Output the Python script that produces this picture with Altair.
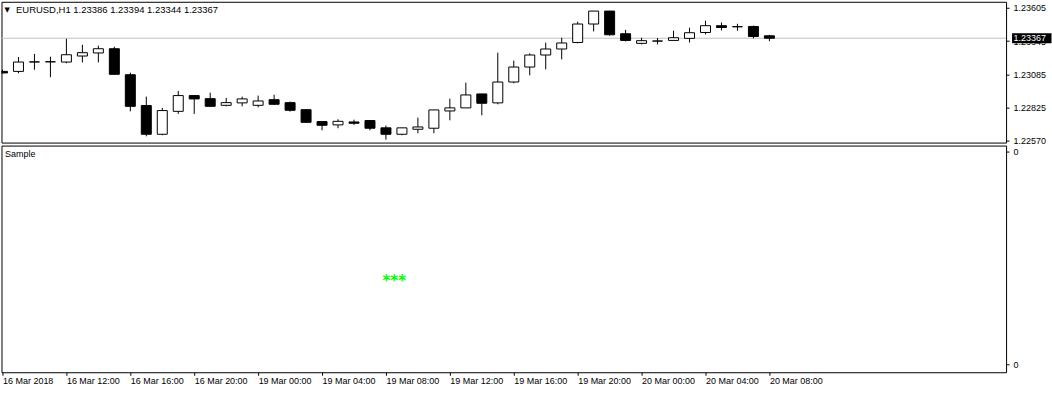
import json
import altair as alt
import pandas as pd

# ---------------- data ----------------
symbol = "EURUSD,H1"
indicator_name = "Sample"

bar_index = list(range(49))
opens = [1.23108, 1.23108, 1.23182, 1.23183, 1.23181, 1.23228, 1.23252, 1.23285, 1.23082, 1.22841,
         1.22617, 1.22796, 1.22919, 1.22895, 1.22843, 1.22862, 1.22843, 1.22887, 1.22864, 1.22809,
         1.22716, 1.22690, 1.22713, 1.22724, 1.22667, 1.22617, 1.22656, 1.22664, 1.22799, 1.22823,
         1.22932, 1.22862, 1.23025, 1.23142, 1.23236, 1.23283, 1.23334, 1.23478, 1.23579, 1.23402,
         1.23327, 1.23345, 1.23350, 1.23366, 1.23412, 1.23465, 1.23457, 1.23459, 1.23386]
highs = [1.23121, 1.23220, 1.23244, 1.23223, 1.23363, 1.23316, 1.23309, 1.23301, 1.23098, 1.22911,
         1.22823, 1.22955, 1.22921, 1.22942, 1.22901, 1.22911, 1.22919, 1.22926, 1.22872, 1.22811,
         1.22717, 1.22734, 1.22731, 1.22725, 1.22685, 1.22668, 1.22747, 1.22808, 1.22895, 1.23020,
         1.22933, 1.23254, 1.23192, 1.23249, 1.23332, 1.23371, 1.23496, 1.23580, 1.23581, 1.23433,
         1.23371, 1.23369, 1.23426, 1.23449, 1.23504, 1.23490, 1.23480, 1.23465, 1.23394]
lows = [1.23090, 1.23093, 1.23121, 1.23063, 1.23171, 1.23178, 1.23178, 1.23082, 1.22796, 1.22601,
        1.22609, 1.22776, 1.22776, 1.22833, 1.22835, 1.22835, 1.22827, 1.22846, 1.22794, 1.22708,
        1.22648, 1.22664, 1.22690, 1.22648, 1.22575, 1.22609, 1.22625, 1.22625, 1.22726, 1.22822,
        1.22765, 1.22851, 1.23015, 1.23077, 1.23124, 1.23202, 1.23327, 1.23420, 1.23387, 1.23342,
        1.23319, 1.23319, 1.23349, 1.23334, 1.23397, 1.23428, 1.23426, 1.23366, 1.23344]
closes = [1.23096, 1.23181, 1.23182, 1.23183, 1.23238, 1.23254, 1.23285, 1.23085, 1.22835, 1.22617,
          1.22802, 1.22919, 1.22893, 1.22835, 1.22864, 1.22893, 1.22877, 1.22851, 1.22804, 1.22710,
          1.22687, 1.22718, 1.22703, 1.22664, 1.22617, 1.22667, 1.22674, 1.22807, 1.22823, 1.22924,
          1.22859, 1.23025, 1.23142, 1.23236, 1.23283, 1.23330, 1.23478, 1.23579, 1.23394, 1.23350,
          1.23348, 1.23345, 1.23371, 1.23410, 1.23465, 1.23451, 1.23457, 1.23381, 1.23367]

time_tick_index = [0, 4, 8, 12, 16, 20, 24, 28, 32, 36, 40, 44, 48]
time_tick_labels = ["16 Mar 2018", "16 Mar 12:00", "16 Mar 16:00", "16 Mar 20:00",
                    "19 Mar 00:00", "19 Mar 04:00", "19 Mar 08:00", "19 Mar 12:00",
                    "19 Mar 16:00", "19 Mar 20:00", "20 Mar 00:00", "20 Mar 04:00",
                    "20 Mar 08:00"]
price_ticks = [1.22570, 1.22825, 1.23085, 1.23345, 1.23605]

star_text = ["***"]
star_bar = [24.52]
star_value = [0.39]

# ---------------- layout / style ----------------
W = 1006
H_TOP = 141
H_BOT = 227
FONT = "Liberation Sans"
FS = 9
X_DOMAIN = [-0.0625, -0.0625 + W / 16]
Y_DOMAIN = [1.22552, 1.236518]
LOW_DOMAIN = [-0.0376, 1.0282]

candles = pd.DataFrame({"i": bar_index, "open": opens, "high": highs,
                        "low": lows, "close": closes})
last = pd.DataFrame({"price": [closes[-1]], "label": [f"{closes[-1]:.5f}"]})
header = pd.DataFrame({"t": [f"{symbol}  {opens[-1]:.5f} {highs[-1]:.5f} {lows[-1]:.5f} {closes[-1]:.5f}"],
                       "arrow": ["\u25BC"]})
stars = pd.DataFrame({"sx": star_bar, "sy": star_value, "txt": star_text})
name_df = pd.DataFrame({"name": [indicator_name]})

xs = alt.Scale(domain=X_DOMAIN, nice=False, zero=False, padding=0)
ys = alt.Scale(domain=Y_DOMAIN, nice=False, zero=False, padding=0)

price_axis = alt.Axis(orient="right", values=price_ticks, format=".5f", tickSize=3,
                      labelPadding=4, title=None, labelOverlap=False, labelFlush=False,
                      grid=False, domain=False)

price_line = alt.Chart(last).mark_rule(color="#C0C0C0", strokeWidth=1).encode(
    y=alt.Y("price:Q", scale=ys, axis=price_axis)
)

wicks = alt.Chart(candles).mark_rule(color="black", strokeWidth=1, clip=True).encode(
    x=alt.X("i:Q", scale=xs, axis=None),
    y=alt.Y("low:Q", scale=ys, axis=price_axis),
    y2="high:Q",
)

bodies = alt.Chart(candles).mark_bar(size=10, stroke="black", strokeWidth=1, clip=True).encode(
    x=alt.X("i:Q", scale=xs, axis=None),
    y=alt.Y("open:Q", scale=ys, axis=price_axis),
    y2="close:Q",
    fill=alt.condition("datum.close >= datum.open", alt.value("white"), alt.value("black")),
)

price_box = alt.Chart(last).mark_bar(color="black", orient="horizontal", size=10, clip=False).encode(
    y=alt.Y("price:Q", scale=ys, axis=price_axis),
    x=alt.value(W + 6),
    x2=alt.value(W + 45.5),
)
price_box_text = alt.Chart(last).mark_text(
    align="left", baseline="middle", color="white", font=FONT, fontSize=FS, clip=False
).encode(
    y=alt.Y("price:Q", scale=ys, axis=price_axis),
    x=alt.value(W + 7.5),
    text="label:N",
)

header_arrow = alt.Chart(header).mark_text(
    align="left", baseline="middle", font="DejaVu Sans", fontSize=7, color="black"
).encode(x=alt.value(3), y=alt.value(8), text="arrow:N")
header_text = alt.Chart(header).mark_text(
    align="left", baseline="middle", font=FONT, fontSize=9.5, color="black"
).encode(x=alt.value(14.5), y=alt.value(8), text="t:N")

top = alt.layer(price_line, wicks, bodies, price_box, price_box_text,
                header_arrow, header_text).properties(width=W, height=H_TOP)

label_expr = json.dumps(time_tick_labels) + "[round(datum.value / 4)]"

star_chart = alt.Chart(stars).mark_text(
    color="#00FF00", font="DejaVu Sans", fontSize=15, fontWeight="bold",
    align="center", baseline="middle"
).encode(
    x=alt.X("sx:Q", scale=alt.Scale(domain=X_DOMAIN, nice=False, zero=False, padding=0),
            axis=alt.Axis(orient="bottom", values=time_tick_index, labelExpr=label_expr,
                          tickSize=3, labelPadding=1, labelAlign="left", title=None,
                          labelOverlap=False, labelFlush=False, grid=False, domain=False)),
    y=alt.Y("sy:Q", scale=alt.Scale(domain=LOW_DOMAIN, nice=False, zero=False, padding=0),
            axis=alt.Axis(orient="right", values=[0, 1], labelExpr="'0'", tickSize=3,
                          labelPadding=4, title=None, labelOverlap=False, labelFlush=False,
                          grid=False, domain=False)),
    text="txt:N",
)
name_text = alt.Chart(name_df).mark_text(
    align="left", baseline="middle", font=FONT, fontSize=FS, color="black"
).encode(x=alt.value(3.5), y=alt.value(8), text="name:N")

bottom = alt.layer(star_chart, name_text).properties(width=W, height=H_BOT)

chart = alt.vconcat(top, bottom, spacing=3, bounds="flush").resolve_scale(
    x="independent", y="independent"
).properties(
    padding={"left": 0.5, "top": 0.5, "right": 0, "bottom": 0},
    background="white",
).configure_view(
    stroke="black", strokeWidth=1
).configure_axis(
    labelFont=FONT, labelFontSize=FS, labelColor="black", tickColor="black",
    domain=False, grid=False
)

chart.save("out.html", embed_options={"renderer": "svg", "actions": False})
